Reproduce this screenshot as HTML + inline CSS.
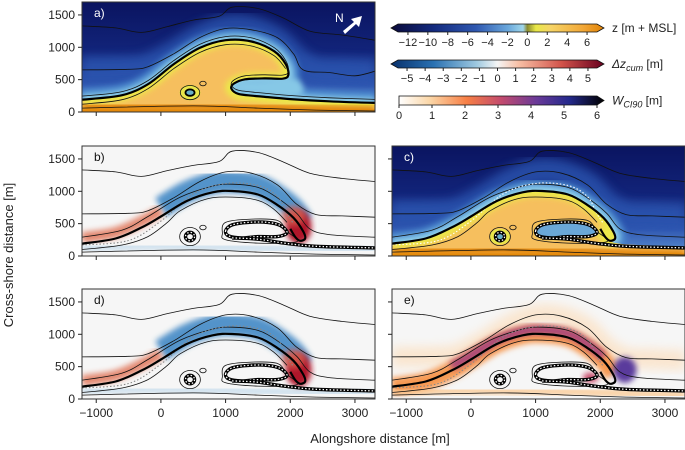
<!DOCTYPE html>
<html><head><meta charset="utf-8"><style>
html,body{margin:0;padding:0;background:#fff;}
svg{display:block;font-family:"Liberation Sans","DejaVu Sans",sans-serif;}
</style></head><body>
<svg id="fig" width="685" height="450" viewBox="0 0 685 450">
<defs>
<filter id="bl" x="-20%" y="-20%" width="140%" height="140%"><feGaussianBlur stdDeviation="3"/></filter>
<filter id="bl2" x="-30%" y="-30%" width="160%" height="160%"><feGaussianBlur stdDeviation="5"/></filter>
<linearGradient id="gz" x1="0" x2="1">
<stop offset="0" stop-color="#0a0a3a"/><stop offset="0.2" stop-color="#132a7e"/><stop offset="0.4" stop-color="#2f58b0"/>
<stop offset="0.55" stop-color="#6aa8dc"/><stop offset="0.62" stop-color="#9fd6ea"/><stop offset="0.64" stop-color="#8a8a30"/>
<stop offset="0.68" stop-color="#e8e848"/><stop offset="0.75" stop-color="#f6d466"/><stop offset="0.9" stop-color="#f2a838"/><stop offset="1" stop-color="#e08206"/>
</linearGradient>
<linearGradient id="gd" x1="0" x2="1">
<stop offset="0" stop-color="#08306b"/><stop offset="0.2" stop-color="#2a71b2"/><stop offset="0.4" stop-color="#9dc8e0"/>
<stop offset="0.5" stop-color="#f5f5f5"/><stop offset="0.6" stop-color="#f7bfa5"/><stop offset="0.8" stop-color="#d2534a"/><stop offset="1" stop-color="#67001f"/>
</linearGradient>
<linearGradient id="gw" x1="0" x2="1">
<stop offset="0" stop-color="#ffffff"/><stop offset="0.15" stop-color="#fbd7a8"/><stop offset="0.33" stop-color="#f77f45"/>
<stop offset="0.5" stop-color="#c24a6e"/><stop offset="0.67" stop-color="#6a3a98"/><stop offset="0.83" stop-color="#24298c"/><stop offset="1" stop-color="#000000"/>
</linearGradient>
<linearGradient id="gsea" x1="0" x2="0" y1="0" y2="1">
<stop offset="0" stop-color="#0a1460"/><stop offset="0.45" stop-color="#12247a"/><stop offset="0.75" stop-color="#2f56b0"/><stop offset="1" stop-color="#5c93d2"/>
</linearGradient>
</defs>
</svg>
<script>
// ---- data (metres) ----
const xTicks = [-1000, 0, 1000, 2000, 3000];
const yTicks = [0, 500, 1000, 1500];
const xDomain = [-1220, 3310];
const yDomain = [0, 1700];
// contour lines (alongshore, cross-shore)
const shoreA = [[-1220,190],[-600,260],[-200,430],[200,740],[600,990],[1000,1110],[1400,1090],[1750,940],[1930,740],[1970,570],[1880,515],[1600,520],[1300,505],[1130,440],[1090,360],[1200,280],[1550,240],[2000,200],[2600,165],[3310,140]];
const landA = shoreA.concat([[3310,0],[-1220,0]]);
const lagoonA = [[1950,545],[1600,500],[1250,485],[1120,400],[1200,300],[1600,260],[2000,220],[2200,300],[2150,480]];
const shore = [[-1220,190],[-700,270],[-300,440],[0,610],[400,850],[800,985],[1100,1005],[1500,950],[1800,790],[2050,590],[2200,380],[2230,270],[2150,235],[2080,290],[2000,420]];
const landC = [[-1220,190],[-700,270],[-300,440],[0,610],[400,850],[800,985],[1100,1005],[1500,950],[1800,790],[2050,590],[2200,380],[2230,270],[2150,230],[2400,180],[3310,130],[3310,0],[-1220,0]];
const lagoon = [[1000,390],[1100,480],[1350,520],[1650,520],[1850,470],[1950,360],[1800,300],[1500,300],[1250,280],[1050,310]];
const bottomDot = [[1100,280],[1500,260],[1900,200],[2400,150],[3310,125]];
const top1 = [[-1220,1330],[-700,1300],[-300,1230],[100,1320],[500,1400],[900,1460],[1100,1620],[1500,1600],[1900,1450],[2300,1280],[2800,1200],[3310,1150]];
const top1A = [[-1220,1330],[-700,1300],[-300,1230],[100,1320],[500,1420],[900,1480],[1100,1620],[1500,1600],[1900,1450],[2300,1250],[2800,1190],[3310,1110]];
const mid2 = [[-1220,650],[-500,660],[-200,700],[200,900],[600,1150],[1000,1300],[1400,1280],[1800,1100],[2100,800],[2400,640],[2800,620],[3310,600]];
const mid2A = [[-1220,650],[-500,660],[-200,700],[200,900],[600,1150],[1000,1290],[1400,1270],[1800,1150],[2050,900],[2200,650],[2600,610],[3000,560],[3310,630]];
const out3 = [[-1220,290],[-600,400],[-200,610],[300,910],[800,1080],[1100,1110],[1500,1060],[1800,900],[2100,660],[2300,420],[2600,330],[3310,290]];
const in4 = [[-1220,100],[-600,170],[-200,300],[100,520],[300,700],[700,880],[1100,910],[1500,860],[1750,720],[1950,520]];
const lagLoop = [[950,350],[1000,520],[1400,570],[1800,550],[1950,380],[2100,220],[1500,200],[1000,250]];
const bottomLine = [[-1220,60],[500,95],[1500,60],[2400,30],[3310,15]];
const oldShore = [[-1220,170],[-500,240],[0,540],[500,960],[1000,1120],[1500,1090],[1800,920],[1950,650],[2050,500]];
const island = [450, 300];
const islet = [650, 440];

// ---- panels ----
const panels = [
 {id:'a', x0:82, y0:2, kind:'z', label:'a)'},
 {id:'b', x0:82, y0:146, kind:'d', label:'b)'},
 {id:'c', x0:392, y0:146, kind:'z2', label:'c)'},
 {id:'d', x0:82, y0:289, kind:'d2', label:'d)'},
 {id:'e', x0:392, y0:289, kind:'w', label:'e)'}
];
const PW = 293, PH = 110;
const NS = 'http://www.w3.org/2000/svg';
const svg = document.getElementById('fig');
function el(tag, attrs, parent){const e=document.createElementNS(NS,tag);for(const k in attrs)e.setAttribute(k,attrs[k]);(parent||svg).appendChild(e);return e;}
function sx(p,v){return p.x0+(v-xDomain[0])/(xDomain[1]-xDomain[0])*PW;}
function sy(p,v){return p.y0+PH-(v-yDomain[0])/(yDomain[1]-yDomain[0])*PH;}
function path(p,pts,closed){
  const P=pts.map(q=>[sx(p,q[0]),sy(p,q[1])]);
  const n=P.length; let d='M'+P[0][0].toFixed(1)+' '+P[0][1].toFixed(1);
  const g=i=>closed?P[(i+n)%n]:P[Math.max(0,Math.min(n-1,i))];
  const m=closed?n:n-1;
  for(let i=0;i<m;i++){const p0=g(i-1),p1=g(i),p2=g(i+1),p3=g(i+2);
    const c1=[p1[0]+(p2[0]-p0[0])/6,p1[1]+(p2[1]-p0[1])/6],c2=[p2[0]-(p3[0]-p1[0])/6,p2[1]-(p3[1]-p1[1])/6];
    d+=' C'+c1[0].toFixed(1)+' '+c1[1].toFixed(1)+' '+c2[0].toFixed(1)+' '+c2[1].toFixed(1)+' '+p2[0].toFixed(1)+' '+p2[1].toFixed(1);}
  return d+(closed?' Z':'');
}
function line(g,p,pts,attrs,closed){const a=Object.assign({d:path(p,pts,closed),fill:'none'},attrs);return el('path',a,g);}
function ell(g,p,c,rx,ry,attrs){return el('ellipse',Object.assign({cx:sx(p,c[0]),cy:sy(p,c[1]),rx:rx/4530*PW,ry:ry/1700*PH},attrs),g);}

panels.forEach(p=>{
  const cp=el('clipPath',{id:'clip'+p.id},svg.querySelector('defs'));
  el('rect',{x:p.x0,y:p.y0,width:PW,height:PH},cp);
  const g=el('g',{'clip-path':'url(#clip'+p.id+')'});
  
  
  const isZ=p.kind==='z'||p.kind==='z2';
  if(isZ){
    el('rect',{x:p.x0,y:p.y0,width:PW,height:PH,fill:'url(#gsea)'},g);
    const land = p.kind==='z'?landA:landC;
    const sh = p.kind==='z'?shoreA:shore;
    line(g,p,mid2,{stroke:'#2a55b0','stroke-width':26,filter:'url(#bl2)',opacity:0.8});
    line(g,p,sh,{stroke:'#4a86cc','stroke-width':22,filter:'url(#bl)'});
    line(g,p,sh,{stroke:'#8fd0ea','stroke-width':10,filter:'url(#bl)'});
    if(p.kind==='z') el('path',{d:path(p,lagoonA,true),fill:'#86c8e6',filter:'url(#bl)'},g);
    el('path',{d:path(p,land,true),fill:'#f6bf5e'},g);
    const cl=el('clipPath',{id:'land'+p.id},svg.querySelector('defs'));
    el('path',{d:path(p,land,true)},cl);
    const gy=el('g',{'clip-path':'url(#land'+p.id+')'},g);
    line(gy,p,sh,{stroke:'#ece84a','stroke-width':12,filter:'url(#bl)'});
    line(gy,p,bottomLine,{stroke:'#e3880c','stroke-width':10,filter:'url(#bl)'});
    el('rect',{x:p.x0,y:sy(p,40),width:PW,height:10,fill:'#e58a0a'},gy);
    if(p.kind==='z2'){
      el('path',{d:path(p,lagoon,true),fill:'#e8e44a',filter:'url(#bl)'},g);
      el('path',{d:path(p,lagoon,true),fill:'#6aa8d8'},g);
    }
    ell(g,p,island,160,120,{fill:'#eae64a'});
    ell(g,p,island,70,60,{fill:'#6ab0c8'});
  } else {
    el('rect',{x:p.x0,y:p.y0,width:PW,height:PH,fill:'#f6f6f6'},g);
    if(p.kind==='d'||p.kind==='d2'){
      const gb=el('g',{transform:'translate(0,-9)'},g);
      line(gb,p,shore.slice(3,11),{stroke:'#4b8ec8','stroke-width':22,filter:'url(#bl)',opacity:0.95});
      line(g,p,shore.slice(0,4),{stroke:'#e07458','stroke-width':11,filter:'url(#bl)',opacity:0.85,transform:'translate(0,-6)'});
      ell(g,p,[2130,450],200,260,{fill:'#b0182a',filter:'url(#bl)'});
      ell(g,p,[2050,620],180,150,{fill:'#d8604f',filter:'url(#bl)',opacity:0.8});
      line(g,p,[[-1220,130],[0,150],[1500,120],[3310,90]],{stroke:'#a8cce6','stroke-width':6,filter:'url(#bl)',opacity:0.6});
    } else {
      line(g,p,mid2,{stroke:'#fbe2c6','stroke-width':20,filter:'url(#bl2)',opacity:0.8});
      line(g,p,shore.slice(0,11),{stroke:'#f79a52','stroke-width':18,filter:'url(#bl)'});
      line(g,p,shore.slice(2,10),{stroke:'#a8457a','stroke-width':9,filter:'url(#bl)',transform:'translate(0,-4)'});
      ell(g,p,[2380,450],180,200,{fill:'#5a3a9c',filter:'url(#bl)'});
      ell(g,p,[1850,330],120,80,{fill:'#c94a6a',filter:'url(#bl)'});
      line(g,p,[[-1220,110],[0,130],[1500,110],[3310,60]],{stroke:'#fbc890','stroke-width':6,filter:'url(#bl)'});
    }
  }
  // contours
  const k={stroke:'#111','stroke-width':0.8};
  if(p.kind==='z'){
    line(g,p,top1A,k);line(g,p,mid2A,k);
    line(g,p,shoreA,{stroke:'#000','stroke-width':2.2});
    line(g,p,shoreA.map(q=>[q[0],q[1]+55]),k);
    line(g,p,shoreA.slice(0,9).map(q=>[q[0],q[1]-70]),k);
    line(g,p,bottomLine,k);
    ell(g,p,island,150,110,Object.assign({fill:'none'},k));
    ell(g,p,island,70,50,{fill:'none',stroke:'#000','stroke-width':1.8});
    ell(g,p,islet,50,35,Object.assign({fill:'none'},k));
  } else {
    line(g,p,top1,k);line(g,p,mid2,k);line(g,p,out3,k);line(g,p,in4,k);line(g,p,bottomLine,k);
    line(g,p,lagLoop,k,true);
    ell(g,p,island,160,140,Object.assign({fill:'none'},k));
    ell(g,p,islet,50,35,Object.assign({fill:'none'},k));
    line(g,p,oldShore,{stroke:p.kind==='z2'?'#fff':'#888','stroke-width':1.1,'stroke-dasharray':'1.5 2'});
    line(g,p,shore,{stroke:'#000','stroke-width':2.2});
    [[lagoon,true],[bottomDot,false]].forEach(([pts,c])=>{
      line(g,p,pts,{stroke:'#000','stroke-width':3.4},c);
      line(g,p,pts,{stroke:'#fff','stroke-width':1.3,'stroke-dasharray':'1.5 2'},c);
    });
    ell(g,p,island,70,65,{fill:'none',stroke:'#000','stroke-width':3.4});
    ell(g,p,island,70,65,{fill:'none',stroke:'#fff','stroke-width':1.3,'stroke-dasharray':'1.5 2'});
  }
  // frame
  const fr=el('rect',{x:p.x0,y:p.y0,width:PW,height:PH,fill:'none',stroke:'#333','stroke-width':1});
  
  
  const lb=el('text',{x:p.x0+12,y:p.y0+15,'font-size':12,fill:isZ?'#fff':'#111'});
  lb.textContent=p.label;
  
  
  // ticks
  xTicks.forEach(v=>{
    el('line',{x1:sx(p,v),x2:sx(p,v),y1:p.y0+PH,y2:p.y0+PH+4,stroke:'#222'});
    if(p.id==='d'||p.id==='e'){
      const t=el('text',{x:sx(p,v),y:p.y0+PH+18,'font-size':12,'text-anchor':'middle',fill:'#222'});
      t.textContent=v<0?'\u2212'+(-v):String(v);
      
      
    }
  });
  yTicks.forEach(v=>{
    el('line',{x1:p.x0-4,x2:p.x0,y1:sy(p,v),y2:sy(p,v),stroke:'#222'});
    if(p.x0<100){
      const t=el('text',{x:p.x0-7,y:sy(p,v)+4,'font-size':12,'text-anchor':'end',fill:'#222'});
      t.textContent=String(v);
      
      
    }
  });
});

// north arrow
const na=el('g',{});


el('polygon',{points:'343,31 354,22 351,19 362,16 359,27 356,24 345,34',fill:'#fff'},na);
const nt=el('text',{x:335,y:22,'font-size':12,fill:'#fff'},na);nt.textContent='N';

// axis titles
const xt=el('text',{x:380,y:443,'font-size':13,'text-anchor':'middle',fill:'#222'});
xt.textContent='Alongshore distance [m]';


const yt=el('text',{x:0,y:0,'font-size':13,'text-anchor':'middle',fill:'#222',transform:'translate(13,255) rotate(-90)'});
yt.textContent='Cross-shore distance [m]';



// colorbars
const zTicks=[-12,-10,-8,-6,-4,-2,0,2,4,6];
const dTicks=[-5,-4,-3,-2,-1,0,1,2,3,4,5];
const wTicks=[0,1,2,3,4,5,6];
function cbar(name,y,h,x1,x2,grad,leftArrow,vmin,vmax,ticks,label,sub){
  const g=el('g',{});
  
  
  const a=7,m=y+h/2;
  const pts=(leftArrow?[[x1-a,m],[x1,y]]:[[x1,y]]).concat([[x2,y],[x2+a,m],[x2,y+h]]).concat([[x1,y+h]]);
  el('polygon',{points:pts.map(q=>q.join(',')).join(' '),fill:'url(#'+grad+')',stroke:'#111','stroke-width':0.8},g);
  ticks.forEach(v=>{
    const x=x1+(v-vmin)/(vmax-vmin)*(x2-x1);
    el('line',{x1:x,x2:x,y1:y+h,y2:y+h+3,stroke:'#222'},g);
    const t=el('text',{x:x,y:y+h+14,'font-size':11,'text-anchor':'middle',fill:'#222'},g);
    t.textContent=v<0?'\u2212'+(-v):String(v);
  });
  const t=el('text',{x:x2+15,y:m+4,'font-size':12,fill:'#222'},g);
  if(sub){t.innerHTML='<tspan font-style="italic">'+label+'</tspan><tspan font-style="italic" font-size="9" dy="3">'+sub+'</tspan><tspan dy="-3"> [m]</tspan>';}
  else t.textContent=label;
}
cbar('z-colorbar',24,8,398,597,'gz',true,-13,7,zTicks,'z [m + MSL]');
cbar('dz-colorbar',60,8,398,597,'gd',true,-5.5,5.5,dTicks,'\u0394z','cum');
cbar('w-colorbar',96,9,399,597,'gw',false,0,6,wTicks,'W','CI90');
</script>
</body></html>
